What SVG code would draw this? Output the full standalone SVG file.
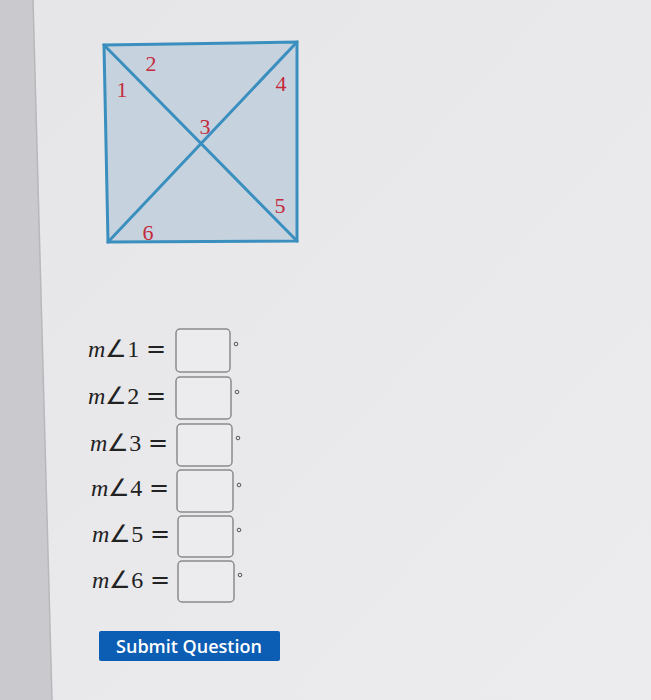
<svg xmlns="http://www.w3.org/2000/svg" width="651" height="700" viewBox="0 0 651 700">
<defs>
<linearGradient id="bg" x1="0" y1="0" x2="1" y2="1">
<stop offset="0" stop-color="#e6e6e9"/>
<stop offset="1" stop-color="#ececee"/>
</linearGradient>
</defs>
<style>
.lbl{font-family:"Liberation Serif",serif;font-size:22px;fill:#c42a3c;text-anchor:middle}
.eq{font-family:"Liberation Serif",serif;font-size:24px;fill:#222}
.eq .m{font-style:italic}
.eqs{font-family:"DejaVu Serif",serif;font-size:24px;fill:#222}
.box{fill:#ececee;stroke:#8a8a8e;stroke-width:1.5}
.deg{fill:none;stroke:#555;stroke-width:1}
.edge{stroke:#3a8fbf;stroke-width:3;fill:none;stroke-linecap:round}
</style>
<rect width="651" height="700" fill="url(#bg)"/>
<polygon points="0,0 33,0 52,700 0,700" fill="#cacace"/>
<line x1="33" y1="0" x2="52" y2="700" stroke="#b8b8bc" stroke-width="1.5"/>
<g id="square">
<polygon points="104,45 297,42 297,241 108,242" fill="#c6d3de"/>
</g>
<g id="connectors">
<polygon class="edge" points="104,45 297,42 297,241 108,242"/>
<line class="edge" x1="104" y1="45" x2="297" y2="241"/>
<line class="edge" x1="297" y1="42" x2="108" y2="242"/>
</g>
<g id="labels">
<text class="lbl" x="151" y="71">2</text>
<text class="lbl" x="122" y="97">1</text>
<text class="lbl" x="281" y="91">4</text>
<text class="lbl" x="205" y="134">3</text>
<text class="lbl" x="280" y="213">5</text>
<text class="lbl" x="148" y="240">6</text>
</g>
<g id="row1"><text class="eq" x="88" y="357"><tspan class="m">m</tspan>∠1</text><text class="eqs" x="146" y="357">=</text><rect class="box" x="176" y="329" width="54" height="43" rx="4"/><circle class="deg" cx="236" cy="344" r="1.8"/></g>
<g id="row2"><text class="eq" x="88" y="404"><tspan class="m">m</tspan>∠2</text><text class="eqs" x="146" y="404">=</text><rect class="box" x="176" y="377" width="55" height="42" rx="4"/><circle class="deg" cx="237" cy="392" r="1.8"/></g>
<g id="row3"><text class="eq" x="90" y="451"><tspan class="m">m</tspan>∠3</text><text class="eqs" x="148" y="451">=</text><rect class="box" x="177" y="424" width="55" height="42" rx="4"/><circle class="deg" cx="238" cy="438" r="1.8"/></g>
<g id="row4"><text class="eq" x="91" y="496"><tspan class="m">m</tspan>∠4</text><text class="eqs" x="149" y="496">=</text><rect class="box" x="177" y="470" width="56" height="42" rx="4"/><circle class="deg" cx="239" cy="485" r="1.8"/></g>
<g id="row5"><text class="eq" x="92" y="542"><tspan class="m">m</tspan>∠5</text><text class="eqs" x="150" y="542">=</text><rect class="box" x="178" y="516" width="55" height="41" rx="4"/><circle class="deg" cx="239" cy="530" r="1.8"/></g>
<g id="row6"><text class="eq" x="92" y="588"><tspan class="m">m</tspan>∠6</text><text class="eqs" x="150" y="588">=</text><rect class="box" x="178" y="561" width="56" height="41" rx="4"/><circle class="deg" cx="240" cy="575" r="1.8"/></g>
<g id="submit">
<rect x="99" y="631" width="181" height="30" rx="2" fill="#0c5db4"/>
<text x="189" y="653" font-family="'Open Sans','Liberation Sans',sans-serif" font-size="18" font-weight="600" fill="#ffffff" text-anchor="middle">Submit Question</text>
</g>
</svg>
